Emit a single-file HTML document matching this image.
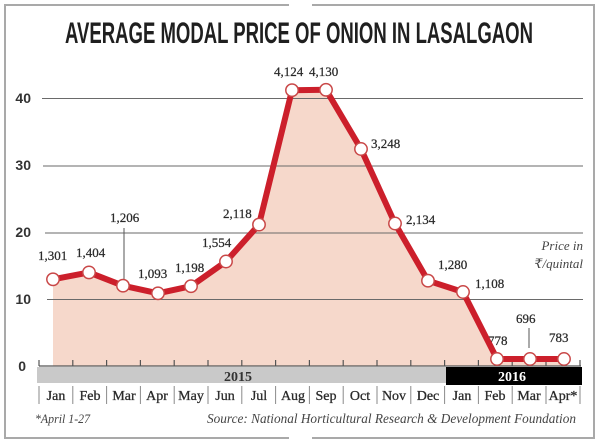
<!DOCTYPE html>
<html>
<head>
<meta charset="utf-8">
<style>
  html,body{margin:0;padding:0;background:#fff;}
  svg{display:block;}
  .num{font-family:"Liberation Serif",serif;font-size:13px;fill:#2a2a2a;stroke:#2a2a2a;stroke-width:0.25;}
  .mon{font-family:"Liberation Serif",serif;font-size:14px;fill:#2a2a2a;stroke:#2a2a2a;stroke-width:0.3;}
  .ylab{font-family:"Liberation Sans",sans-serif;font-size:14px;font-weight:bold;fill:#333;}
  .it{font-family:"Liberation Serif","DejaVu Serif",serif;font-style:italic;fill:#444;}
</style>
</head>
<body>
<svg width="600" height="443" viewBox="0 0 600 443" xmlns="http://www.w3.org/2000/svg">
  <rect x="0" y="0" width="600" height="443" fill="#fff"/>
  <!-- frame -->
  <g stroke="#a9a9a9" stroke-width="2" fill="none">
    <polyline points="289,5 5,5 5,438 289,438"/>
    <polyline points="312,5 594,5 594,438 312,438"/>
  </g>

  <!-- title -->
  <text x="65" y="43" textLength="468" lengthAdjust="spacingAndGlyphs" font-family="Liberation Sans, sans-serif" font-weight="bold" font-size="30" fill="#1f1f1f">AVERAGE MODAL PRICE OF ONION IN LASALGAON</text>

  <!-- fill area -->
  <polygon fill="#f6d8cb" points="53,279.3 89,272.4 123,285.7 158,293.3 191,286.2 226,261.5 259,224.6 292,90.2 326,89.8 361,149 395,223.5 428,280.7 463,292 497,359 530,359 564,359 564,366 53,366"/>

  <!-- gridlines -->
  <g stroke="#6a6a6a" stroke-width="1">
    <line x1="42" y1="98.5" x2="583" y2="98.5"/>
    <line x1="43" y1="166" x2="583" y2="166"/>
    <line x1="45" y1="233" x2="583" y2="233"/>
    <line x1="47" y1="299.5" x2="583" y2="299.5"/>
  </g>

  <!-- y labels -->
  <text class="ylab" x="31" y="103" text-anchor="end">40</text>
  <text class="ylab" x="31" y="170" text-anchor="end">30</text>
  <text class="ylab" x="31" y="237" text-anchor="end">20</text>
  <text class="ylab" x="31" y="304" text-anchor="end">10</text>
  <text class="ylab" x="26" y="371" text-anchor="end">0</text>

  <!-- axis -->
  <g stroke="#555" stroke-width="1.2">
    <line x1="39" y1="366" x2="581" y2="366"/>
    <line x1="39" y1="360" x2="39" y2="366"/>
    <line x1="72.8" y1="360" x2="72.8" y2="366"/>
    <line x1="106.6" y1="360" x2="106.6" y2="366"/>
    <line x1="140.4" y1="360" x2="140.4" y2="366"/>
    <line x1="174.2" y1="360" x2="174.2" y2="366"/>
    <line x1="208" y1="360" x2="208" y2="366"/>
    <line x1="241.8" y1="360" x2="241.8" y2="366"/>
    <line x1="275.6" y1="360" x2="275.6" y2="366"/>
    <line x1="309.4" y1="360" x2="309.4" y2="366"/>
    <line x1="343.2" y1="360" x2="343.2" y2="366"/>
    <line x1="377" y1="360" x2="377" y2="366"/>
    <line x1="410.8" y1="360" x2="410.8" y2="366"/>
    <line x1="444.6" y1="360" x2="444.6" y2="366"/>
    <line x1="478.4" y1="360" x2="478.4" y2="366"/>
    <line x1="512.2" y1="360" x2="512.2" y2="366"/>
    <line x1="546" y1="360" x2="546" y2="366"/>
    <line x1="580" y1="360" x2="580" y2="366"/>
  </g>

  <!-- year bars -->
  <rect x="37" y="367" width="409" height="16" fill="#c9c9c9"/>
  <rect x="446" y="367" width="136" height="18" fill="#000"/>
  <text x="238" y="381" text-anchor="middle" font-family="Liberation Serif, serif" font-weight="bold" font-size="14" fill="#333">2015</text>
  <text x="512" y="381" text-anchor="middle" font-family="Liberation Serif, serif" font-weight="bold" font-size="14" fill="#fff">2016</text>

  <!-- month separators -->
  <g stroke="#8a8a8a" stroke-width="1">
    <line x1="39" y1="386" x2="39" y2="404"/>
    <line x1="72.8" y1="386" x2="72.8" y2="404"/>
    <line x1="106.6" y1="386" x2="106.6" y2="404"/>
    <line x1="140.4" y1="386" x2="140.4" y2="404"/>
    <line x1="174.2" y1="386" x2="174.2" y2="404"/>
    <line x1="208" y1="386" x2="208" y2="404"/>
    <line x1="241.8" y1="386" x2="241.8" y2="404"/>
    <line x1="275.6" y1="386" x2="275.6" y2="404"/>
    <line x1="309.4" y1="386" x2="309.4" y2="404"/>
    <line x1="343.2" y1="386" x2="343.2" y2="404"/>
    <line x1="377" y1="386" x2="377" y2="404"/>
    <line x1="410.8" y1="386" x2="410.8" y2="404"/>
    <line x1="444.6" y1="386" x2="444.6" y2="404"/>
    <line x1="478.4" y1="386" x2="478.4" y2="404"/>
    <line x1="512.2" y1="386" x2="512.2" y2="404"/>
    <line x1="546" y1="386" x2="546" y2="404"/>
    <line x1="580" y1="386" x2="580" y2="404"/>
  </g>

  <!-- month labels -->
  <g class="mon" text-anchor="middle">
    <text x="56" y="400">Jan</text>
    <text x="90" y="400">Feb</text>
    <text x="124" y="400">Mar</text>
    <text x="157" y="400">Apr</text>
    <text x="191" y="400">May</text>
    <text x="225" y="400">Jun</text>
    <text x="259" y="400">Jul</text>
    <text x="293" y="400">Aug</text>
    <text x="326" y="400">Sep</text>
    <text x="360" y="400">Oct</text>
    <text x="394" y="400">Nov</text>
    <text x="428" y="400">Dec</text>
    <text x="462" y="400">Jan</text>
    <text x="495" y="400">Feb</text>
    <text x="529" y="400">Mar</text>
    <text x="563" y="400">Apr*</text>
  </g>

  <!-- leader lines -->
  <g stroke="#555" stroke-width="1">
    <line x1="124" y1="228" x2="124" y2="280"/>
    <line x1="529" y1="328" x2="529" y2="348"/>
  </g>

  <!-- data labels -->
  <g class="num">
    <text x="38" y="260">1,301</text>
    <text x="76" y="257">1,404</text>
    <text x="110" y="222">1,206</text>
    <text x="138" y="278">1,093</text>
    <text x="175" y="272">1,198</text>
    <text x="202" y="247">1,554</text>
    <text x="223" y="218">2,118</text>
    <text x="274" y="76">4,124</text>
    <text x="309" y="76">4,130</text>
    <text x="371" y="148">3,248</text>
    <text x="406" y="224">2,134</text>
    <text x="438" y="269">1,280</text>
    <text x="475" y="288">1,108</text>
    <text x="516" y="323">696</text>
    <text x="488" y="345">778</text>
    <text x="549" y="342">783</text>
  </g>

  <!-- line -->
  <polyline fill="none" stroke="#cc1f2b" stroke-width="6" stroke-linejoin="round" stroke-linecap="round"
    points="53,279.3 89,272.4 123,285.7 158,293.3 191,286.2 226,261.5 259,224.6 292,90.2 326,89.8 361,149 395,223.5 428,280.7 463,292 497,359 530,359 564,359"/>

  <!-- markers -->
  <g fill="#fff" stroke="#c94848" stroke-width="1.5">
    <circle cx="53" cy="279.3" r="6.2"/>
    <circle cx="89" cy="272.4" r="6.2"/>
    <circle cx="123" cy="285.7" r="6.2"/>
    <circle cx="158" cy="293.3" r="6.2"/>
    <circle cx="191" cy="286.2" r="6.2"/>
    <circle cx="226" cy="261.5" r="6.2"/>
    <circle cx="259" cy="224.6" r="6.2"/>
    <circle cx="292" cy="90.2" r="6.2"/>
    <circle cx="326" cy="89.8" r="6.2"/>
    <circle cx="361" cy="149" r="6.2"/>
    <circle cx="395" cy="223.5" r="6.2"/>
    <circle cx="428" cy="280.7" r="6.2"/>
    <circle cx="463" cy="292" r="6.2"/>
    <circle cx="497" cy="359" r="6.2"/>
    <circle cx="530" cy="359" r="6.2"/>
    <circle cx="564" cy="359" r="6.2"/>
  </g>

  <!-- unit note -->
  <text class="it" x="583" y="250" text-anchor="end" font-size="13">Price in</text>
  <text class="it" x="583" y="268" text-anchor="end" font-size="13">₹/quintal</text>

  <!-- footnotes -->
  <text class="it" x="35" y="423" font-size="13" textLength="55" lengthAdjust="spacingAndGlyphs">*April 1-27</text>
  <text class="it" x="207" y="423" font-size="13.5" textLength="369" lengthAdjust="spacingAndGlyphs">Source: National Horticultural Research &amp; Development Foundation</text>
</svg>
</body>
</html>
